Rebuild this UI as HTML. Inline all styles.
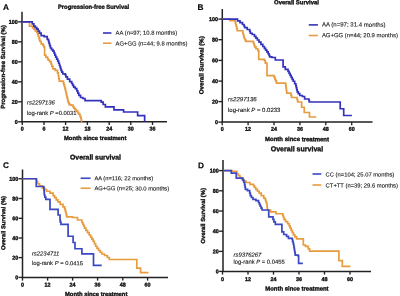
<!DOCTYPE html>
<html><head><meta charset="utf-8"><style>
html,body{margin:0;padding:0;background:#fff;width:400px;height:296px;overflow:hidden}
svg{display:block;will-change:transform}
text{font-family:"Liberation Sans",sans-serif;text-rendering:geometricPrecision}

</style></head><body>
<svg width="400" height="296" viewBox="0 0 400 296">
<g>
<rect width="400" height="296" fill="#fff"/>
<text x="2.90" y="9.90" font-size="8.3" font-weight="bold" fill="#000" stroke="#000" stroke-width="0.12" transform="rotate(0.05 2.90 9.90)">A</text>
<text x="93.50" y="8.80" font-size="5.85" font-weight="bold" text-anchor="middle" fill="#111" stroke="#111" stroke-width="0.35" transform="rotate(0.05 93.50 8.80)">Progression-free Survival</text>
<path d="M22,11.8 V121.8 H167" fill="none" stroke="#222" stroke-width="1.5"/>
<path d="M18.1,21.85 H22" stroke="#222" stroke-width="1.35"/>
<text x="17.80" y="23.75" font-size="5.4" font-weight="bold" text-anchor="end" fill="#111" stroke="#111" stroke-width="0.35" transform="rotate(0.05 17.80 23.75)">100</text>
<path d="M18.1,41.85 H22" stroke="#222" stroke-width="1.35"/>
<text x="17.80" y="43.75" font-size="5.4" font-weight="bold" text-anchor="end" fill="#111" stroke="#111" stroke-width="0.35" transform="rotate(0.05 17.80 43.75)">80</text>
<path d="M18.1,61.85 H22" stroke="#222" stroke-width="1.35"/>
<text x="17.80" y="63.75" font-size="5.4" font-weight="bold" text-anchor="end" fill="#111" stroke="#111" stroke-width="0.35" transform="rotate(0.05 17.80 63.75)">60</text>
<path d="M18.1,81.85 H22" stroke="#222" stroke-width="1.35"/>
<text x="17.80" y="83.75" font-size="5.4" font-weight="bold" text-anchor="end" fill="#111" stroke="#111" stroke-width="0.35" transform="rotate(0.05 17.80 83.75)">40</text>
<path d="M18.1,101.8 H22" stroke="#222" stroke-width="1.35"/>
<text x="17.80" y="103.70" font-size="5.4" font-weight="bold" text-anchor="end" fill="#111" stroke="#111" stroke-width="0.35" transform="rotate(0.05 17.80 103.70)">20</text>
<path d="M18.1,121.8 H22" stroke="#222" stroke-width="1.35"/>
<text x="17.80" y="123.70" font-size="5.4" font-weight="bold" text-anchor="end" fill="#111" stroke="#111" stroke-width="0.35" transform="rotate(0.05 17.80 123.70)">0</text>
<path d="M22.3,121.8 V125.0" stroke="#222" stroke-width="1.35"/>
<text x="22.30" y="130.50" font-size="5.4" font-weight="bold" text-anchor="middle" fill="#111" stroke="#111" stroke-width="0.35" transform="rotate(0.05 22.30 130.50)">0</text>
<path d="M44,121.8 V125.0" stroke="#222" stroke-width="1.35"/>
<text x="44.00" y="130.50" font-size="5.4" font-weight="bold" text-anchor="middle" fill="#111" stroke="#111" stroke-width="0.35" transform="rotate(0.05 44.00 130.50)">6</text>
<path d="M65.6,121.8 V125.0" stroke="#222" stroke-width="1.35"/>
<text x="65.60" y="130.50" font-size="5.4" font-weight="bold" text-anchor="middle" fill="#111" stroke="#111" stroke-width="0.35" transform="rotate(0.05 65.60 130.50)">12</text>
<path d="M87.4,121.8 V125.0" stroke="#222" stroke-width="1.35"/>
<text x="87.40" y="130.50" font-size="5.4" font-weight="bold" text-anchor="middle" fill="#111" stroke="#111" stroke-width="0.35" transform="rotate(0.05 87.40 130.50)">18</text>
<path d="M109.2,121.8 V125.0" stroke="#222" stroke-width="1.35"/>
<text x="109.20" y="130.50" font-size="5.4" font-weight="bold" text-anchor="middle" fill="#111" stroke="#111" stroke-width="0.35" transform="rotate(0.05 109.20 130.50)">24</text>
<path d="M130.8,121.8 V125.0" stroke="#222" stroke-width="1.35"/>
<text x="130.80" y="130.50" font-size="5.4" font-weight="bold" text-anchor="middle" fill="#111" stroke="#111" stroke-width="0.35" transform="rotate(0.05 130.80 130.50)">30</text>
<path d="M152.5,121.8 V125.0" stroke="#222" stroke-width="1.35"/>
<text x="152.50" y="130.50" font-size="5.4" font-weight="bold" text-anchor="middle" fill="#111" stroke="#111" stroke-width="0.35" transform="rotate(0.05 152.50 130.50)">36</text>
<text x="64.00" y="140.00" font-size="5.85" font-weight="bold" fill="#111" stroke="#111" stroke-width="0.35" transform="rotate(0.05 64.00 140.00)">Month since treatment</text>
<text x="0.00" y="0.00" font-size="5.97" font-weight="bold" text-anchor="middle" fill="#111" stroke="#111" stroke-width="0.35" transform="translate(5.10,67.00) rotate(-89.95)">Progression-free Survival (%)</text>
<path d="M22.00,21.80 H29.50 V26.10 H32.00 H32.68 V27.80 H34.05 V29.50 H35.42 V31.20 H36.10 H36.85 V32.70 H37.60 H37.85 V34.45 H38.35 V36.20 H38.60 H38.86 V37.90 H39.38 V39.60 H39.89 V41.30 H40.15 H41.17 V43.80 H42.20 H42.95 V45.30 H43.70 H43.90 V47.00 H44.10 H44.60 V55.10 H45.85 V57.15 H47.10 H47.48 V58.67 H48.23 V60.20 H48.60 H49.62 V61.70 H50.65 H51.04 V64.00 H51.81 V66.30 H52.20 H52.95 V68.80 H53.70 H55.20 V70.30 H56.70 H57.48 V72.85 H58.25 H58.31 V74.47 H58.44 V76.10 H58.50 H58.76 V78.60 H59.29 V81.10 H59.55 H63.10 H63.35 V82.88 H63.85 V84.65 H64.35 V86.42 H64.85 V88.20 H65.10 H65.35 V90.35 H65.85 V92.50 H66.35 V94.65 H66.85 V96.80 H67.35 V98.95 H67.85 V101.10 H68.10 H68.47 V102.85 H69.22 V104.60 H69.60 H71.10 V105.10 H72.60 H72.99 V106.65 H73.76 V108.20 H74.15 H74.91 V109.70 H76.44 V111.20 H77.20 H77.70 V112.70 H78.70 V114.20 H79.20 H79.95 V116.30 H80.70 H80.88 V118.10 H81.22 V119.90 H81.58 V121.70 H81.75" fill="none" stroke="#e89c40" stroke-width="1.7" stroke-linejoin="miter"/>
<path d="M22.00,21.80 H31.50 H32.27 V23.95 H33.83 V26.10 H34.60 H35.35 V27.60 H36.85 V29.10 H37.60 H38.24 V31.15 H39.51 V33.20 H40.15 H41.17 V35.70 H42.20 H44.20 V36.70 H46.20 H47.23 V39.30 H48.25 H48.51 V41.30 H49.04 V43.30 H49.30 H49.67 V45.65 H50.42 V48.00 H50.80 H51.52 V49.55 H52.98 V51.10 H53.70 H54.08 V53.10 H54.83 V55.10 H55.20 H55.71 V57.13 H56.73 V59.17 H57.74 V61.20 H58.25 H58.64 V63.23 H59.41 V65.25 H59.80 H60.05 V66.93 H60.55 V68.62 H61.05 V70.30 H61.30 H61.80 V72.10 H62.80 V73.90 H63.30 H65.10 V74.55 H65.88 V76.82 H67.42 V79.10 H68.20 H69.70 V81.65 H71.20 H71.70 V83.50 H72.70 V85.35 H73.70 V87.20 H74.20 H75.25 V88.70 H76.30 H76.80 V90.90 H77.80 V93.10 H78.80 V95.30 H79.30 H80.53 V97.50 H81.75 H82.78 V98.50 H83.80 H85.05 V100.60 H86.30 H100.50 H101.25 V102.10 H102.00 H103.12 V104.50 H105.38 V106.90 H106.50 H114.00 V109.90 H123.60 V112.00 H137.65 V115.70 H144.65 V121.70" fill="none" stroke="#3432bc" stroke-width="1.7" stroke-linejoin="miter"/>
<path d="M103,33 H111.4" stroke="#3432bc" stroke-width="1.6"/>
<path d="M103,43.2 H111.4" stroke="#e89c40" stroke-width="1.6"/>
<text x="115.60" y="34.70" font-size="5.85" fill="#111" stroke="#111" stroke-width="0.1" transform="rotate(0.05 115.60 34.70)">AA (n=97; 10.8 months)</text>
<text x="115.60" y="45.40" font-size="5.85" fill="#111" stroke="#111" stroke-width="0.1" transform="rotate(0.05 115.60 45.40)">AG+GG (n=44; 9.8 months)</text>
<text x="27.00" y="104.60" font-size="5.9" font-style="italic" fill="#111" stroke="#111" stroke-width="0.1" transform="rotate(0.05 27.00 104.60)">rs2297136</text>
<text x="27.00" y="115.00" font-size="5.85" fill="#111" stroke="#111" stroke-width="0.1" transform="rotate(0.05 27.00 115.00)">log-rank <tspan font-style="italic">P</tspan> =0.0031</text>
<text x="197.40" y="10.10" font-size="8.3" font-weight="bold" fill="#000" stroke="#000" stroke-width="0.12" transform="rotate(0.05 197.40 10.10)">B</text>
<text x="296.50" y="4.25" font-size="5.95" font-weight="bold" text-anchor="middle" fill="#111" stroke="#111" stroke-width="0.35" transform="rotate(0.05 296.50 4.25)">Overall Survival</text>
<path d="M222.3,9.1 V122.1 H372.5" fill="none" stroke="#222" stroke-width="1.5"/>
<path d="M218.4,19.1 H222.3" stroke="#222" stroke-width="1.35"/>
<text x="218.10" y="21.00" font-size="5.4" font-weight="bold" text-anchor="end" fill="#111" stroke="#111" stroke-width="0.35" transform="rotate(0.05 218.10 21.00)">100</text>
<path d="M218.4,39.7 H222.3" stroke="#222" stroke-width="1.35"/>
<text x="218.10" y="41.60" font-size="5.4" font-weight="bold" text-anchor="end" fill="#111" stroke="#111" stroke-width="0.35" transform="rotate(0.05 218.10 41.60)">80</text>
<path d="M218.4,60.4 H222.3" stroke="#222" stroke-width="1.35"/>
<text x="218.10" y="62.30" font-size="5.4" font-weight="bold" text-anchor="end" fill="#111" stroke="#111" stroke-width="0.35" transform="rotate(0.05 218.10 62.30)">60</text>
<path d="M218.4,81.1 H222.3" stroke="#222" stroke-width="1.35"/>
<text x="218.10" y="83.00" font-size="5.4" font-weight="bold" text-anchor="end" fill="#111" stroke="#111" stroke-width="0.35" transform="rotate(0.05 218.10 83.00)">40</text>
<path d="M218.4,101.6 H222.3" stroke="#222" stroke-width="1.35"/>
<text x="218.10" y="103.50" font-size="5.4" font-weight="bold" text-anchor="end" fill="#111" stroke="#111" stroke-width="0.35" transform="rotate(0.05 218.10 103.50)">20</text>
<path d="M218.4,122.1 H222.3" stroke="#222" stroke-width="1.35"/>
<text x="218.10" y="124.00" font-size="5.4" font-weight="bold" text-anchor="end" fill="#111" stroke="#111" stroke-width="0.35" transform="rotate(0.05 218.10 124.00)">0</text>
<path d="M222.2,122.1 V125.3" stroke="#222" stroke-width="1.35"/>
<text x="222.20" y="130.80" font-size="5.4" font-weight="bold" text-anchor="middle" fill="#111" stroke="#111" stroke-width="0.35" transform="rotate(0.05 222.20 130.80)">0</text>
<path d="M248.1,122.1 V125.3" stroke="#222" stroke-width="1.35"/>
<text x="248.10" y="130.80" font-size="5.4" font-weight="bold" text-anchor="middle" fill="#111" stroke="#111" stroke-width="0.35" transform="rotate(0.05 248.10 130.80)">12</text>
<path d="M274,122.1 V125.3" stroke="#222" stroke-width="1.35"/>
<text x="274.00" y="130.80" font-size="5.4" font-weight="bold" text-anchor="middle" fill="#111" stroke="#111" stroke-width="0.35" transform="rotate(0.05 274.00 130.80)">24</text>
<path d="M299.9,122.1 V125.3" stroke="#222" stroke-width="1.35"/>
<text x="299.90" y="130.80" font-size="5.4" font-weight="bold" text-anchor="middle" fill="#111" stroke="#111" stroke-width="0.35" transform="rotate(0.05 299.90 130.80)">36</text>
<path d="M325.8,122.1 V125.3" stroke="#222" stroke-width="1.35"/>
<text x="325.80" y="130.80" font-size="5.4" font-weight="bold" text-anchor="middle" fill="#111" stroke="#111" stroke-width="0.35" transform="rotate(0.05 325.80 130.80)">48</text>
<path d="M351.7,122.1 V125.3" stroke="#222" stroke-width="1.35"/>
<text x="351.70" y="130.80" font-size="5.4" font-weight="bold" text-anchor="middle" fill="#111" stroke="#111" stroke-width="0.35" transform="rotate(0.05 351.70 130.80)">60</text>
<text x="265.00" y="141.10" font-size="6.0" font-weight="bold" fill="#111" stroke="#111" stroke-width="0.35" transform="rotate(0.05 265.00 141.10)">Month since treatment</text>
<text x="0.00" y="0.00" font-size="6.19" font-weight="bold" text-anchor="middle" fill="#111" stroke="#111" stroke-width="0.35" transform="translate(203.45,65.25) rotate(-89.95)">Overall Survival (%)</text>
<path d="M222.30,19.10 H230.00 V20.75 H235.00 H235.25 V22.75 H235.75 V24.75 H236.25 V26.75 H236.75 V28.75 H237.25 V30.75 H237.50 H242.50 H242.74 V32.62 H243.21 V34.50 H243.69 V36.38 H244.16 V38.25 H244.40 H244.86 V39.83 H245.79 V41.40 H246.25 H253.10 H253.42 V43.23 H254.05 V45.07 H254.68 V46.90 H255.00 H255.94 V48.75 H257.81 V50.60 H258.75 V59.40 H264.40 V60.60 H265.32 V63.10 H266.25 H267.00 V75.60 H273.75 H274.14 V77.47 H274.93 V79.35 H275.72 V81.22 H276.51 V83.10 H276.90 H285.60 V83.75 H285.73 V85.62 H285.99 V87.49 H286.25 V89.36 H286.51 V91.23 H286.77 V93.10 H286.90 H290.60 H290.95 V95.30 H291.65 V97.50 H292.00 H296.80 H297.10 V99.75 H297.70 V102.00 H298.00 H301.60 V107.25 H304.25 V112.50 H309.50 V117.00 H316.25" fill="none" stroke="#e89c40" stroke-width="1.7" stroke-linejoin="miter"/>
<path d="M222.30,19.10 H236.25 H237.50 V20.90 H240.00 V22.70 H242.50 V24.50 H243.75 H244.06 V26.05 H244.69 V27.60 H245.00 H247.20 V29.50 H249.40 H249.70 V31.38 H250.30 V33.25 H250.60 H252.18 V34.50 H253.75 H254.47 V36.33 H255.93 V38.17 H257.38 V40.00 H258.10 H259.04 V42.17 H260.93 V44.33 H262.81 V46.50 H263.75 H264.38 V48.31 H265.62 V50.12 H266.88 V51.94 H268.12 V53.75 H268.75 H269.06 V55.33 H269.69 V56.90 H270.00 H271.88 V57.50 H273.75 H275.32 V60.00 H276.90 H283.10 V66.90 H285.30 V69.40 H287.50 H288.02 V71.38 H289.06 V73.35 H290.10 V75.33 H291.15 V77.30 H292.19 V79.28 H293.23 V81.25 H293.75 H294.68 V83.75 H295.60 H295.84 V85.79 H296.31 V87.83 H296.79 V89.86 H297.26 V91.90 H297.50 H298.25 V93.70 H299.75 V95.50 H300.50 H302.38 V96.50 H304.25 H304.62 V99.00 H305.00 H308.75 H308.94 V100.50 H309.31 V102.00 H309.50 H340.20 V108.75 H343.70 V115.50 H351.90" fill="none" stroke="#3432bc" stroke-width="1.7" stroke-linejoin="miter"/>
<path d="M308.75,24.9 H317.9" stroke="#3432bc" stroke-width="1.6"/>
<path d="M308.75,35.5 H317.9" stroke="#e89c40" stroke-width="1.6"/>
<text x="321.90" y="26.60" font-size="6.05" fill="#111" stroke="#111" stroke-width="0.1" transform="rotate(0.05 321.90 26.60)">AA (n=97; 31.4 months)</text>
<text x="321.90" y="37.20" font-size="5.93" fill="#111" stroke="#111" stroke-width="0.1" transform="rotate(0.05 321.90 37.20)">AG+GG (n=44; 20.9 months)</text>
<text x="228.00" y="101.30" font-size="6.09" font-style="italic" fill="#111" stroke="#111" stroke-width="0.1" transform="rotate(0.05 228.00 101.30)">rs2297136</text>
<text x="228.00" y="112.00" font-size="5.99" fill="#111" stroke="#111" stroke-width="0.1" transform="rotate(0.05 228.00 112.00)">log-rank <tspan font-style="italic">P</tspan> = 0.0233</text>
<text x="2.90" y="168.10" font-size="8.3" font-weight="bold" fill="#000" stroke="#000" stroke-width="0.12" transform="rotate(0.05 2.90 168.10)">C</text>
<text x="95.50" y="159.60" font-size="6.85" font-weight="bold" text-anchor="middle" fill="#111" stroke="#111" stroke-width="0.35" transform="rotate(0.05 95.50 159.60)">Overall survival</text>
<path d="M22.5,169.4 V277.4 H168" fill="none" stroke="#222" stroke-width="1.5"/>
<path d="M18.6,178.75 H22.5" stroke="#222" stroke-width="1.35"/>
<text x="18.30" y="180.65" font-size="5.4" font-weight="bold" text-anchor="end" fill="#111" stroke="#111" stroke-width="0.35" transform="rotate(0.05 18.30 180.65)">100</text>
<path d="M18.6,198.5 H22.5" stroke="#222" stroke-width="1.35"/>
<text x="18.30" y="200.40" font-size="5.4" font-weight="bold" text-anchor="end" fill="#111" stroke="#111" stroke-width="0.35" transform="rotate(0.05 18.30 200.40)">80</text>
<path d="M18.6,218.3 H22.5" stroke="#222" stroke-width="1.35"/>
<text x="18.30" y="220.20" font-size="5.4" font-weight="bold" text-anchor="end" fill="#111" stroke="#111" stroke-width="0.35" transform="rotate(0.05 18.30 220.20)">60</text>
<path d="M18.6,238 H22.5" stroke="#222" stroke-width="1.35"/>
<text x="18.30" y="239.90" font-size="5.4" font-weight="bold" text-anchor="end" fill="#111" stroke="#111" stroke-width="0.35" transform="rotate(0.05 18.30 239.90)">40</text>
<path d="M18.6,257.6 H22.5" stroke="#222" stroke-width="1.35"/>
<text x="18.30" y="259.50" font-size="5.4" font-weight="bold" text-anchor="end" fill="#111" stroke="#111" stroke-width="0.35" transform="rotate(0.05 18.30 259.50)">20</text>
<path d="M18.6,277.4 H22.5" stroke="#222" stroke-width="1.35"/>
<text x="18.30" y="279.30" font-size="5.4" font-weight="bold" text-anchor="end" fill="#111" stroke="#111" stroke-width="0.35" transform="rotate(0.05 18.30 279.30)">0</text>
<path d="M22.5,277.4 V280.59999999999997" stroke="#222" stroke-width="1.35"/>
<text x="22.50" y="286.40" font-size="5.4" font-weight="bold" text-anchor="middle" fill="#111" stroke="#111" stroke-width="0.35" transform="rotate(0.05 22.50 286.40)">0</text>
<path d="M47.6,277.4 V280.59999999999997" stroke="#222" stroke-width="1.35"/>
<text x="47.60" y="286.40" font-size="5.4" font-weight="bold" text-anchor="middle" fill="#111" stroke="#111" stroke-width="0.35" transform="rotate(0.05 47.60 286.40)">12</text>
<path d="M72.6,277.4 V280.59999999999997" stroke="#222" stroke-width="1.35"/>
<text x="72.60" y="286.40" font-size="5.4" font-weight="bold" text-anchor="middle" fill="#111" stroke="#111" stroke-width="0.35" transform="rotate(0.05 72.60 286.40)">24</text>
<path d="M97.6,277.4 V280.59999999999997" stroke="#222" stroke-width="1.35"/>
<text x="97.60" y="286.40" font-size="5.4" font-weight="bold" text-anchor="middle" fill="#111" stroke="#111" stroke-width="0.35" transform="rotate(0.05 97.60 286.40)">36</text>
<path d="M122.8,277.4 V280.59999999999997" stroke="#222" stroke-width="1.35"/>
<text x="122.80" y="286.40" font-size="5.4" font-weight="bold" text-anchor="middle" fill="#111" stroke="#111" stroke-width="0.35" transform="rotate(0.05 122.80 286.40)">48</text>
<path d="M147.6,277.4 V280.59999999999997" stroke="#222" stroke-width="1.35"/>
<text x="147.60" y="286.40" font-size="5.4" font-weight="bold" text-anchor="middle" fill="#111" stroke="#111" stroke-width="0.35" transform="rotate(0.05 147.60 286.40)">60</text>
<text x="65.00" y="296.00" font-size="5.85" font-weight="bold" fill="#111" stroke="#111" stroke-width="0.35" transform="rotate(0.05 65.00 296.00)">Month since treatment</text>
<text x="0.00" y="0.00" font-size="5.75" font-weight="bold" text-anchor="middle" fill="#111" stroke="#111" stroke-width="0.35" transform="translate(5.30,223.10) rotate(-89.95)">Overall Survival (%)</text>
<path d="M22.50,178.75 H36.25 H36.71 V181.25 H37.64 V183.75 H38.10 H39.51 V185.93 H42.34 V188.10 H43.75 H44.69 V189.68 H46.56 V191.25 H47.50 H50.00 V193.10 H52.50 H53.12 V195.60 H53.75 H54.58 V197.70 H56.25 V199.80 H57.92 V201.90 H58.75 H60.16 V204.40 H62.99 V206.90 H64.40 H64.71 V209.18 H65.33 V211.47 H65.94 V213.75 H66.25 H66.41 V215.32 H66.74 V216.90 H66.90 H71.25 H72.50 V217.50 H73.75 H77.50 V220.00 H81.25 H81.88 V222.50 H82.50 H82.92 V224.37 H83.75 V226.23 H84.58 V228.10 H85.00 H85.83 V230.40 H87.50 V232.70 H89.17 V235.00 H90.00 H90.62 V237.08 H91.88 V239.17 H93.12 V241.25 H93.75 H94.38 V243.75 H95.62 V246.25 H96.25 H97.04 V248.38 H98.61 V250.50 H99.40 H100.20 V252.25 H101.80 V254.00 H102.60 H104.50 V255.50 H106.40 H107.35 V257.50 H109.25 V259.50 H110.20 H136.80 V268.10 H140.60 V272.70 H148.50" fill="none" stroke="#e89c40" stroke-width="1.7" stroke-linejoin="miter"/>
<path d="M22.50,178.75 H36.25 V186.50 H43.75 H43.83 V188.62 H43.99 V190.75 H44.16 V192.88 H44.32 V195.00 H44.40 H44.86 V197.20 H45.79 V199.40 H46.25 H49.40 H50.00 V209.40 H58.10 V215.00 H60.00 V220.00 H60.31 V222.20 H60.94 V224.40 H61.25 H68.10 V236.25 H73.10 V242.50 H75.00 V248.75 H81.90 V253.90 H93.50 V265.40 H101.70" fill="none" stroke="#3a48c4" stroke-width="1.7" stroke-linejoin="miter"/>
<path d="M80.6,178.25 H90.6" stroke="#3a48c4" stroke-width="1.6"/>
<path d="M80.6,188.25 H90.6" stroke="#e89c40" stroke-width="1.6"/>
<text x="94.40" y="180.30" font-size="5.77" fill="#111" stroke="#111" stroke-width="0.1" transform="rotate(0.05 94.40 180.30)">AA (n=116; 22 months)</text>
<text x="94.40" y="190.35" font-size="5.84" fill="#111" stroke="#111" stroke-width="0.1" transform="rotate(0.05 94.40 190.35)">AG+GG (n=25; 30.0 months)</text>
<text x="31.90" y="255.40" font-size="5.9" font-style="italic" fill="#111" stroke="#111" stroke-width="0.1" transform="rotate(0.05 31.90 255.40)">rs2234711</text>
<text x="31.90" y="265.10" font-size="5.85" fill="#111" stroke="#111" stroke-width="0.1" transform="rotate(0.05 31.90 265.10)">log-rank <tspan font-style="italic">P</tspan> = 0.0415</text>
<text x="197.90" y="168.20" font-size="8.3" font-weight="bold" fill="#000" stroke="#000" stroke-width="0.12" transform="rotate(0.05 197.90 168.20)">D</text>
<text x="296.95" y="151.20" font-size="7.05" font-weight="bold" text-anchor="middle" fill="#111" stroke="#111" stroke-width="0.35" transform="rotate(0.05 296.95 151.20)">Overall survival</text>
<path d="M223,160 V271.4 H371" fill="none" stroke="#222" stroke-width="1.5"/>
<path d="M219.1,170.6 H223" stroke="#222" stroke-width="1.35"/>
<text x="218.80" y="172.50" font-size="5.4" font-weight="bold" text-anchor="end" fill="#111" stroke="#111" stroke-width="0.35" transform="rotate(0.05 218.80 172.50)">100</text>
<path d="M219.1,190.8 H223" stroke="#222" stroke-width="1.35"/>
<text x="218.80" y="192.70" font-size="5.4" font-weight="bold" text-anchor="end" fill="#111" stroke="#111" stroke-width="0.35" transform="rotate(0.05 218.80 192.70)">80</text>
<path d="M219.1,211 H223" stroke="#222" stroke-width="1.35"/>
<text x="218.80" y="212.90" font-size="5.4" font-weight="bold" text-anchor="end" fill="#111" stroke="#111" stroke-width="0.35" transform="rotate(0.05 218.80 212.90)">60</text>
<path d="M219.1,231.2 H223" stroke="#222" stroke-width="1.35"/>
<text x="218.80" y="233.10" font-size="5.4" font-weight="bold" text-anchor="end" fill="#111" stroke="#111" stroke-width="0.35" transform="rotate(0.05 218.80 233.10)">40</text>
<path d="M219.1,251.4 H223" stroke="#222" stroke-width="1.35"/>
<text x="218.80" y="253.30" font-size="5.4" font-weight="bold" text-anchor="end" fill="#111" stroke="#111" stroke-width="0.35" transform="rotate(0.05 218.80 253.30)">20</text>
<path d="M219.1,271.4 H223" stroke="#222" stroke-width="1.35"/>
<text x="218.80" y="273.30" font-size="5.4" font-weight="bold" text-anchor="end" fill="#111" stroke="#111" stroke-width="0.35" transform="rotate(0.05 218.80 273.30)">0</text>
<path d="M222.5,271.4 V274.59999999999997" stroke="#222" stroke-width="1.35"/>
<text x="222.50" y="281.00" font-size="5.4" font-weight="bold" text-anchor="middle" fill="#111" stroke="#111" stroke-width="0.35" transform="rotate(0.05 222.50 281.00)">0</text>
<path d="M248,271.4 V274.59999999999997" stroke="#222" stroke-width="1.35"/>
<text x="248.00" y="281.00" font-size="5.4" font-weight="bold" text-anchor="middle" fill="#111" stroke="#111" stroke-width="0.35" transform="rotate(0.05 248.00 281.00)">12</text>
<path d="M273.5,271.4 V274.59999999999997" stroke="#222" stroke-width="1.35"/>
<text x="273.50" y="281.00" font-size="5.4" font-weight="bold" text-anchor="middle" fill="#111" stroke="#111" stroke-width="0.35" transform="rotate(0.05 273.50 281.00)">24</text>
<path d="M299,271.4 V274.59999999999997" stroke="#222" stroke-width="1.35"/>
<text x="299.00" y="281.00" font-size="5.4" font-weight="bold" text-anchor="middle" fill="#111" stroke="#111" stroke-width="0.35" transform="rotate(0.05 299.00 281.00)">36</text>
<path d="M324.5,271.4 V274.59999999999997" stroke="#222" stroke-width="1.35"/>
<text x="324.50" y="281.00" font-size="5.4" font-weight="bold" text-anchor="middle" fill="#111" stroke="#111" stroke-width="0.35" transform="rotate(0.05 324.50 281.00)">48</text>
<path d="M350,271.4 V274.59999999999997" stroke="#222" stroke-width="1.35"/>
<text x="350.00" y="281.00" font-size="5.4" font-weight="bold" text-anchor="middle" fill="#111" stroke="#111" stroke-width="0.35" transform="rotate(0.05 350.00 281.00)">60</text>
<text x="265.25" y="290.50" font-size="5.95" font-weight="bold" fill="#111" stroke="#111" stroke-width="0.35" transform="rotate(0.05 265.25 290.50)">Month since treatment</text>
<text x="0.00" y="0.00" font-size="5.9" font-weight="bold" text-anchor="middle" fill="#111" stroke="#111" stroke-width="0.35" transform="translate(204.90,215.80) rotate(-89.95)">Overall Survival (%)</text>
<path d="M223.00,170.60 H231.25 H231.88 V171.25 H232.50 H236.25 H236.88 V173.75 H237.50 H238.33 V175.63 H240.00 V177.52 H241.67 V179.40 H242.50 H243.60 V180.95 H245.80 V182.50 H246.90 H250.00 V184.40 H253.10 H253.57 V185.95 H254.53 V187.50 H255.00 H255.83 V189.37 H257.50 V191.23 H259.17 V193.10 H260.00 H261.25 V195.60 H263.75 V198.10 H265.00 H265.32 V199.98 H265.95 V201.87 H266.58 V203.75 H266.90 H267.00 V205.83 H267.20 V207.92 H267.40 V210.00 H267.50 H270.62 V211.90 H273.75 H275.93 V213.75 H278.10 H282.50 H282.82 V215.63 H283.45 V217.52 H284.08 V219.40 H284.40 H285.49 V221.57 H287.66 V223.75 H288.75 H289.21 V225.93 H290.14 V228.10 H290.60 H291.17 V230.37 H292.30 V232.63 H293.43 V234.90 H294.00 H294.85 V236.90 H296.55 V238.90 H297.40 H301.50 H303.30 V245.00 H305.45 V246.40 H307.60 H308.28 V248.80 H309.62 V251.20 H310.30 H338.90 V260.70 H342.30 V266.40 H350.40" fill="none" stroke="#e89c40" stroke-width="1.7" stroke-linejoin="miter"/>
<path d="M223.00,170.60 H231.25 V173.10 H236.25 V178.10 H242.50 H242.97 V180.30 H243.93 V182.50 H244.40 H244.60 V184.80 H245.00 V187.10 H245.40 V189.40 H245.60 H247.50 V190.60 H249.40 H249.70 V193.10 H250.30 V195.60 H250.60 H251.39 V197.50 H252.96 V199.40 H253.75 H255.93 V200.60 H258.10 H258.52 V202.48 H259.35 V204.37 H260.18 V206.25 H260.60 H261.08 V208.12 H262.02 V210.00 H262.50 H268.75 V216.90 H272.50 H272.98 V219.40 H273.92 V221.90 H274.40 H275.32 V224.40 H276.25 H281.90 V231.90 H283.75 V234.50 H285.60 H286.55 V236.40 H288.45 V238.30 H289.40 H292.20 V239.20 H292.52 V241.40 H293.18 V243.60 H293.50 H293.66 V245.52 H293.98 V247.43 H294.29 V249.35 H294.61 V251.27 H294.92 V253.18 H295.24 V255.10 H295.40 H298.10 V255.80 H298.60 V263.30 H302.90" fill="none" stroke="#3a48c4" stroke-width="1.7" stroke-linejoin="miter"/>
<path d="M312.5,174 H321.25" stroke="#3a48c4" stroke-width="1.6"/>
<path d="M312.5,185 H321.25" stroke="#e89c40" stroke-width="1.6"/>
<text x="325.60" y="176.40" font-size="5.82" fill="#111" stroke="#111" stroke-width="0.1" transform="rotate(0.05 325.60 176.40)">CC (n=104; 25.07 months)</text>
<text x="325.60" y="187.40" font-size="5.85" fill="#111" stroke="#111" stroke-width="0.1" transform="rotate(0.05 325.60 187.40)">CT+TT (n=39; 29.6 months)</text>
<text x="233.50" y="256.70" font-size="5.9" font-style="italic" fill="#111" stroke="#111" stroke-width="0.1" transform="rotate(0.05 233.50 256.70)">rs9376267</text>
<text x="233.50" y="263.80" font-size="5.85" fill="#111" stroke="#111" stroke-width="0.1" transform="rotate(0.05 233.50 263.80)">log-rank <tspan font-style="italic">P</tspan> = 0.0455</text>
</g>
</svg>
</body></html>
